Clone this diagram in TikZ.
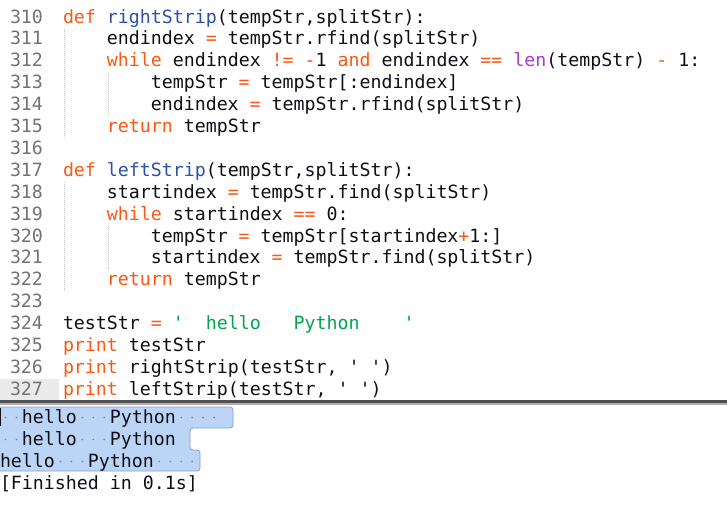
\documentclass[tikz,border=0pt]{standalone}
\usepackage{fontspec}
\setmonofont{DejaVu Sans Mono}
\definecolor{ink}{RGB}{15,15,25}
\definecolor{keyword}{RGB}{250,88,20}
\definecolor{funcname}{RGB}{45,80,170}
\definecolor{builtin}{RGB}{170,60,200}
\definecolor{strgreen}{RGB}{0,165,80}
\definecolor{lnumgray}{RGB}{115,115,115}
\definecolor{guidegray}{RGB}{195,195,195}
\definecolor{gutterhl}{RGB}{234,234,234}
\definecolor{sepdark}{RGB}{80,80,80}
\definecolor{seplight}{RGB}{175,175,175}
\definecolor{selblue}{RGB}{188,213,247}
\definecolor{seledge}{RGB}{135,160,200}
\definecolor{dotgray}{RGB}{120,130,150}
\newcommand\kw[1]{\textcolor{keyword}{#1}}
\newcommand\fn[1]{\textcolor{funcname}{#1}}
\newcommand\bi[1]{\textcolor{builtin}{#1}}
\newcommand\st[1]{\textcolor{strgreen}{#1}}
\newcommand\charw{10.98}
\newcommand\colx[1]{63+#1*\charw}
\newcommand\rowy[1]{23+#1*21.9}
\tikzset{
  code/.style={anchor=base west, inner sep=0pt, outer sep=0pt, text=ink,
    font=\ttfamily\fontsize{18.25}{22}\selectfont\frenchspacing},
  lnum/.style={code, text=lnumgray},
  guide/.style={draw=guidegray, line width=.8pt, dash pattern=on 1pt off 1pt},
  sel/.style={fill=selblue, draw=seledge, line width=.8pt, rounded corners=3pt},
  wsdot/.style={fill=dotgray},
}

\begin{document}
\begin{tikzpicture}[x=1pt,y=-1pt]
    \fill[white] (0,0) rectangle (727,506);
    \useasboundingbox (0,0) rectangle (727,506);

    % gutter
    \fill[gutterhl] (0,379) rectangle (59,400);
    \foreach \i in {0,...,17}
      \node[lnum] (n\i) at (10,{\rowy{\i}}) {\number\numexpr310+\i\relax};

    % indent guides
    \draw[guide] (64.5,28.9) -- (64.5,138.5);
    \draw[guide] (108,72.7) -- (108,116.6);
    \draw[guide] (64.5,182.2) -- (64.5,291.8);
    \draw[guide] (108,226) -- (108,269.9);

    % code
    \node[code] (c310) at ({\colx{0}},{\rowy{0}}) {\kw{def} \fn{rightStrip}(tempStr,splitStr):};
    \node[code] (c311) at ({\colx{4}},{\rowy{1}}) {endindex \kw{=} tempStr.rfind(splitStr)};
    \node[code] (c312) at ({\colx{4}},{\rowy{2}}) {\kw{while} endindex \kw{!=} \kw{-}1 \kw{and} endindex \kw{==} \bi{len}(tempStr) \kw{-} 1:};
    \node[code] (c313) at ({\colx{8}},{\rowy{3}}) {tempStr \kw{=} tempStr[:endindex]};
    \node[code] (c314) at ({\colx{8}},{\rowy{4}}) {endindex \kw{=} tempStr.rfind(splitStr)};
    \node[code] (c315) at ({\colx{4}},{\rowy{5}}) {\kw{return} tempStr};
    \node[code] (c317) at ({\colx{0}},{\rowy{7}}) {\kw{def} \fn{leftStrip}(tempStr,splitStr):};
    \node[code] (c318) at ({\colx{4}},{\rowy{8}}) {startindex \kw{=} tempStr.find(splitStr)};
    \node[code] (c319) at ({\colx{4}},{\rowy{9}}) {\kw{while} startindex \kw{==} 0:};
    \node[code] (c320) at ({\colx{8}},{\rowy{10}}) {tempStr \kw{=} tempStr[startindex\kw{+}1:]};
    \node[code] (c321) at ({\colx{8}},{\rowy{11}}) {startindex \kw{=} tempStr.find(splitStr)};
    \node[code] (c322) at ({\colx{4}},{\rowy{12}}) {\kw{return} tempStr};
    \node[code] (c324) at ({\colx{0}},{\rowy{14}}) {testStr \kw{=} \st{'\ \ hello\ \ \ Python\ \ \ \ '}};
    \node[code] (c325) at ({\colx{0}},{\rowy{15}}) {\kw{print} testStr};
    \node[code] (c326) at ({\colx{0}},{\rowy{16}}) {\kw{print} rightStrip(testStr, '\ ')};
    \node[code] (c327) at ({\colx{0}},{\rowy{17}}) {\kw{print} leftStrip(testStr, '\ ')};

    % output panel
    \fill[sepdark] (0,399.5) rectangle (727,403);
    \fill[seplight] (0,403) rectangle (727,404.5);
    \draw[sel] (-6,407) -- (233,407) -- (233,428) -- (190,428) -- (190,450)
      -- (200,450) -- (200,471) -- (-6,471) -- cycle;
    \foreach \c in {0,1,7,8,9,16,17,18,19}
      \fill[wsdot] ({(\c+0.5)*\charw},417.5) circle (0.9pt);
    \foreach \c in {0,1,7,8,9}
      \fill[wsdot] ({(\c+0.5)*\charw},439.5) circle (0.9pt);
    \foreach \c in {5,6,7,14,15,16,17}
      \fill[wsdot] ({(\c+0.5)*\charw},461.5) circle (0.9pt);
    \node[code] (o1) at (0,423) {\ \ hello\ \ \ Python};
    \node[code] (o2) at (0,445) {\ \ hello\ \ \ Python};
    \node[code] (o3) at (0,467) {hello\ \ \ Python};
    \node[code] (o4) at (0,489) {[Finished in 0.1s]};
    \draw[ink, line width=1.2pt] (0.6,408) -- (0.6,426);

\end{tikzpicture}
\end{document}
